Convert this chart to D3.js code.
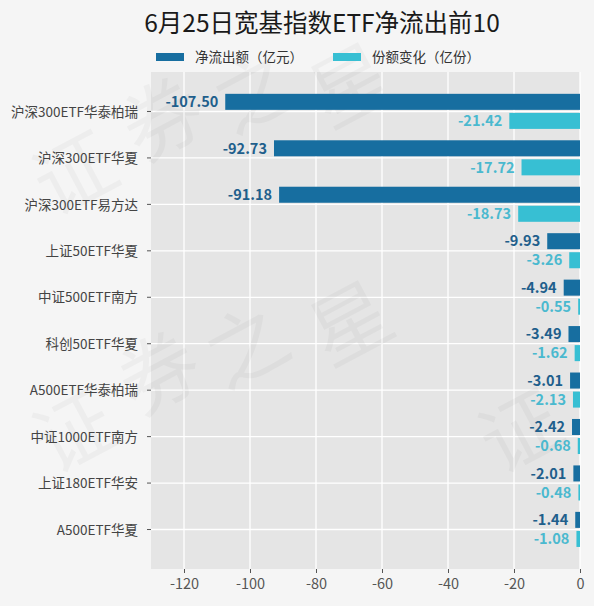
<!DOCTYPE html>
<html>
<head>
<meta charset="utf-8">
<script src="https://cdn.jsdelivr.net/npm/d3@7"></script>
<style>
  body { margin: 0; background: #f5f5f5; }
  svg { display: block; font-family: "Noto Sans CJK SC", "Noto Sans", sans-serif; }
</style>
</head>
<body>
<div id="chart-container"></div>
<script>
// Data
const categories = ["沪深300ETF华泰柏瑞", "沪深300ETF华夏", "沪深300ETF易方达", "上证50ETF华夏",
  "中证500ETF南方", "科创50ETF华夏", "A500ETF华泰柏瑞", "中证1000ETF南方", "上证180ETF华安", "A500ETF华夏"];
const netOutflow = [-107.50, -92.73, -91.18, -9.93, -4.94, -3.49, -3.01, -2.42, -2.01, -1.44];
const shareChange = [-21.42, -17.72, -18.73, -3.26, -0.55, -1.62, -2.13, -0.68, -0.48, -1.08];
const xTicks = [-120, -100, -80, -60, -40, -20, 0];
const seriesNames = ["净流出额（亿元）", "份额变化（亿份）"];

const W = 594, H = 606;
const plot = { left: 151, right: 580, top: 72, bottom: 569 };
const darkColor = "#176ea0", lightColor = "#37bfd3";
const darkText = "#1f5f8c", lightText = "#4ab9cf";

const svg = d3.select("#chart-container")
  .append("svg")
  .attr("width", W)
  .attr("height", H);

svg.append("rect").attr("width", W).attr("height", H).attr("fill", "#f5f5f5");

const x = d3.scaleLinear().domain([-130, 0]).range([plot.left, plot.right]);
const y = d3.scaleLinear().domain([-0.85, categories.length - 0.15]).range([plot.top, plot.bottom]);
const step = y(1) - y(0);

// Plot background
svg.append("rect")
  .attr("x", plot.left).attr("y", plot.top)
  .attr("width", plot.right - plot.left).attr("height", plot.bottom - plot.top)
  .attr("fill", "#e5e5e5");

// Grid lines
svg.append("g").selectAll("line")
  .data(xTicks)
  .join("line")
  .attr("x1", d => x(d)).attr("x2", d => x(d))
  .attr("y1", plot.top).attr("y2", plot.bottom)
  .attr("stroke", "#fff").attr("stroke-width", 1.3);

svg.append("g").selectAll("line")
  .data(categories)
  .join("line")
  .attr("x1", plot.left).attr("x2", plot.right)
  .attr("y1", (d, i) => y(i)).attr("y2", (d, i) => y(i))
  .attr("stroke", "#fff").attr("stroke-width", 1.3);

// Watermark, one glyph at a time (drawn under the bars)
const markChars = ["证", "券", "之", "星", "证", "券", "之", "星", "证"];
const markX = [74, 162, 254, 350, 74, 158, 246, 350, 520];
const markY = [172, 118, 90, 84, 430, 372, 345, 322, 430];
svg.append("g").selectAll("text")
  .data(markChars)
  .join("text")
  .attr("transform", (d, i) => `translate(${markX[i]},${markY[i]}) rotate(-28)`)
  .attr("text-anchor", "middle")
  .attr("dy", "0.38em")
  .attr("font-size", 80)
  .attr("fill", "#000")
  .attr("fill-opacity", 0.032)
  .text(d => d);

// Bars
const barH = 0.345 * step;
svg.append("g").selectAll("rect")
  .data(netOutflow)
  .join("rect")
  .attr("x", d => x(d))
  .attr("y", (d, i) => y(i - 0.38))
  .attr("width", d => x(0) - x(d))
  .attr("height", barH)
  .attr("fill", darkColor);

svg.append("g").selectAll("rect")
  .data(shareChange)
  .join("rect")
  .attr("x", d => x(d))
  .attr("y", (d, i) => y(i + 0.03))
  .attr("width", d => x(0) - x(d))
  .attr("height", barH)
  .attr("fill", lightColor);

// Value labels
svg.append("g").selectAll("text")
  .data(netOutflow)
  .join("text")
  .attr("x", d => x(d) - 7)
  .attr("y", (d, i) => y(i - 0.38) + barH / 2)
  .attr("dy", "0.36em")
  .attr("text-anchor", "end")
  .attr("font-size", 14.5)
  .attr("font-weight", "bold")
  .attr("fill", darkText)
  .text(d => d.toFixed(2));

svg.append("g").selectAll("text")
  .data(shareChange)
  .join("text")
  .attr("x", d => x(d) - 7)
  .attr("y", (d, i) => y(i + 0.03) + barH / 2)
  .attr("dy", "0.36em")
  .attr("text-anchor", "end")
  .attr("font-size", 14.5)
  .attr("font-weight", "bold")
  .attr("fill", lightText)
  .text(d => d.toFixed(2));

// Y axis
const yAxis = svg.append("g");
yAxis.selectAll("line")
  .data(categories)
  .join("line")
  .attr("x1", plot.left - 4).attr("x2", plot.left)
  .attr("y1", (d, i) => y(i)).attr("y2", (d, i) => y(i))
  .attr("stroke", "#555").attr("stroke-width", 1);
yAxis.selectAll("text")
  .data(categories)
  .join("text")
  .attr("x", plot.left - 13)
  .attr("y", (d, i) => y(i))
  .attr("dy", "0.38em")
  .attr("text-anchor", "end")
  .attr("font-size", 13.5)
  .attr("fill", "#444")
  .text(d => d);

// X axis
const xAxis = svg.append("g")
  .attr("transform", `translate(0,${plot.bottom})`)
  .call(d3.axisBottom(x).tickValues(xTicks).tickSize(4).tickPadding(6));
xAxis.select(".domain").remove();
xAxis.selectAll("line").attr("stroke", "#555");
xAxis.selectAll("text")
  .attr("font-size", 14.5)
  .attr("font-family", "\"Noto Sans CJK SC\", sans-serif")
  .attr("fill", "#555")
  .text(d => d < 0 ? "-" + Math.abs(d) : d);

// Title
svg.append("text")
  .attr("x", 322).attr("y", 23)
  .attr("dy", "0.36em")
  .attr("text-anchor", "middle")
  .attr("font-size", 24.5)
  .attr("fill", "#1a1a1a")
  .text("6月25日宽基指数ETF净流出前10");

// Legend
const legend = svg.append("g");
const legendX = [156, 333];
const legendColors = [darkColor, lightColor];
seriesNames.forEach((name, i) => {
  legend.append("rect")
    .attr("x", legendX[i]).attr("y", 53)
    .attr("width", 28).attr("height", 8)
    .attr("fill", legendColors[i]);
  legend.append("text")
    .attr("x", legendX[i] + 39).attr("y", 57)
    .attr("dy", "0.36em")
    .attr("font-size", 13.5)
    .attr("fill", "#333")
    .text(name);
});
</script>
</body>
</html>
